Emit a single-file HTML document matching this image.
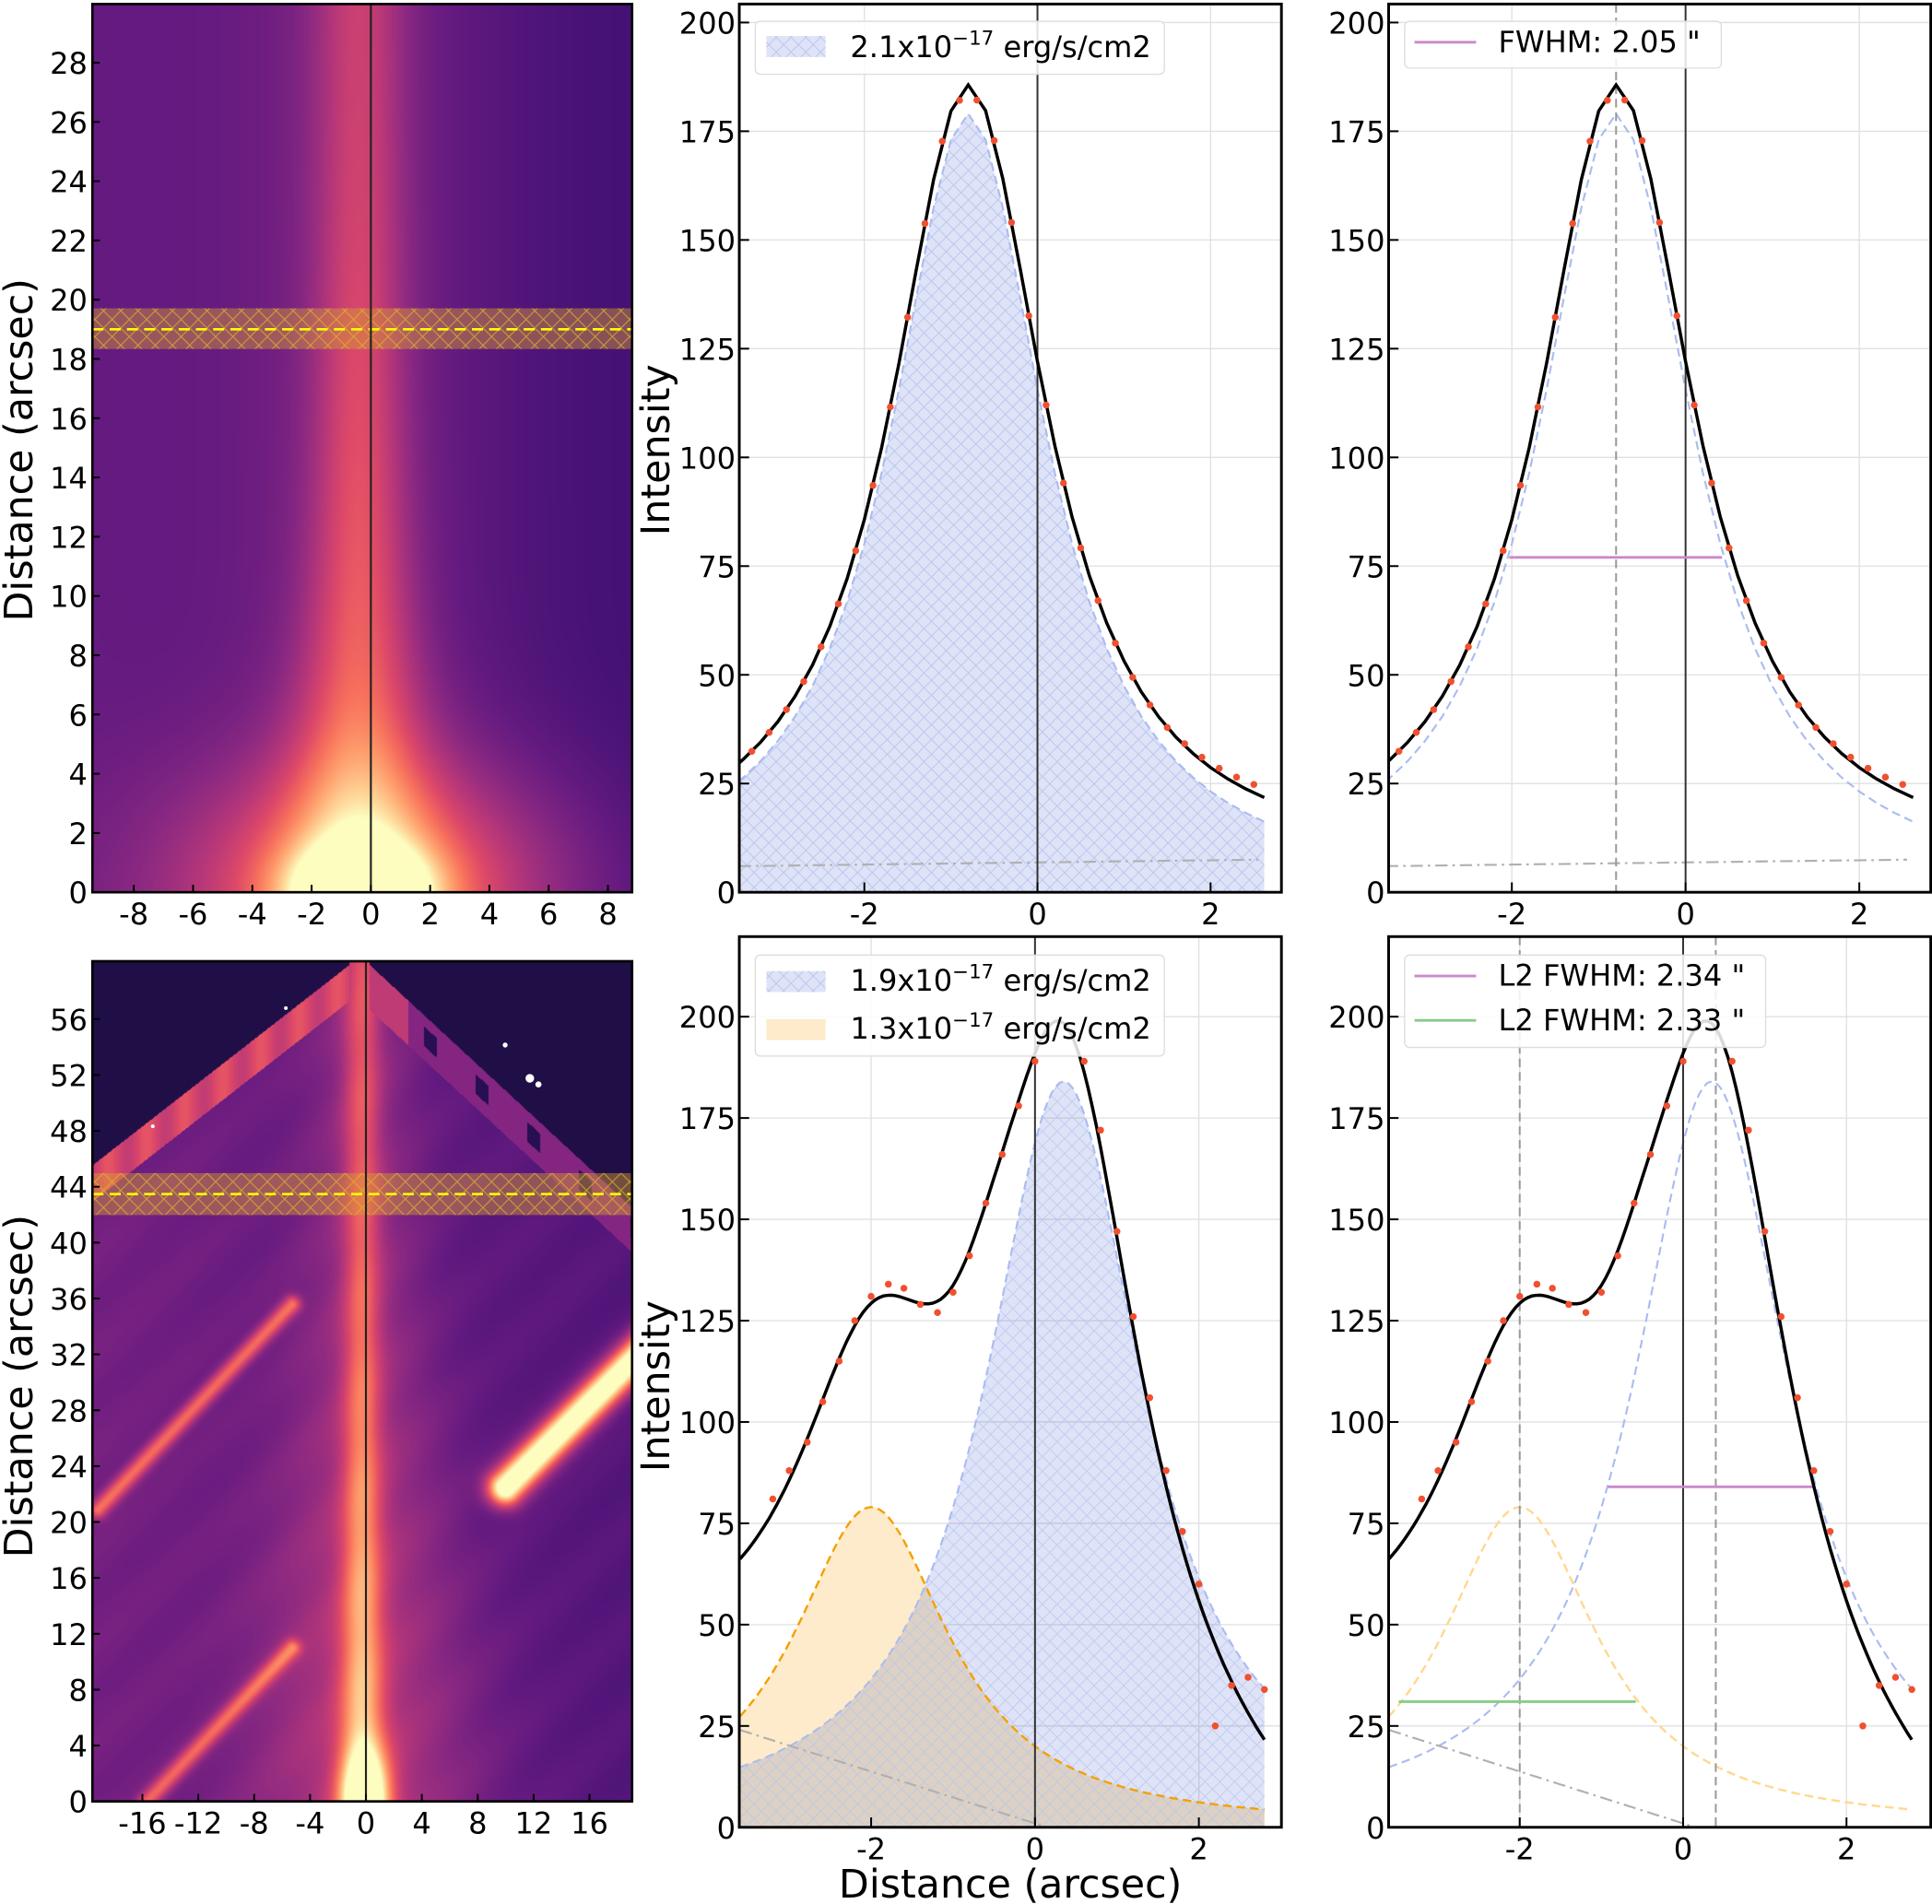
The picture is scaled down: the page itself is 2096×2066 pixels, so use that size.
<!DOCTYPE html>
<html><head><meta charset="utf-8"><style>
html,body{margin:0;padding:0;background:#fff;}
#wrap{position:relative;width:2096px;height:2066px;overflow:hidden;}
canvas{position:absolute;}
svg{position:absolute;left:0;top:0;display:block;}
text{font-family:"DejaVu Sans","Liberation Sans",sans-serif;fill:#000;}
</style></head><body>
<div id="wrap">
<canvas id="cv1" width="586" height="964" style="left:100px;top:4px;width:586px;height:964px"></canvas>
<canvas id="cv2" width="586" height="912" style="left:100px;top:1043px;width:586px;height:912px"></canvas>
<svg id="s" width="2096" height="2066" viewBox="0 0 1568 1545" xmlns="http://www.w3.org/2000/svg">
<defs>
<pattern id="hb" width="12" height="12" patternUnits="userSpaceOnUse"><path d="M0 0L12 12M12 0L0 12" stroke="#b8c4ee" stroke-width="0.7"/></pattern>
<pattern id="hy" width="14" height="14" patternUnits="userSpaceOnUse"><path d="M0 0L14 14M14 0L0 14" stroke="#e0b030" stroke-width="0.8"/></pattern>
<clipPath id="ctm"><rect x="600" y="3" width="440" height="721"/></clipPath>
<clipPath id="ctr"><rect x="1127" y="3" width="440" height="721"/></clipPath>
<clipPath id="cbm"><rect x="600" y="760" width="440" height="723"/></clipPath>
<clipPath id="cbr"><rect x="1127" y="760" width="440" height="723"/></clipPath>
</defs>

<rect x="75" y="250" width="438" height="33" fill="#d8a030" opacity="0.45"/>
<rect x="75" y="250" width="438" height="33" fill="url(#hy)" opacity="0.8"/>
<line x1="75" y1="267" x2="513" y2="267" stroke="#ffff00" stroke-width="2" stroke-dasharray="9,5"/>
<line x1="301" y1="3" x2="301" y2="724" stroke="#222" stroke-width="1.6"/>
<rect x="75" y="3" width="438" height="721" fill="none" stroke="#000" stroke-width="2"/>

<circle cx="430" cy="875" r="3.5" fill="#fff"/><circle cx="437" cy="880" r="2.5" fill="#fff"/><circle cx="410" cy="848" r="2" fill="#fff"/>
<circle cx="232" cy="818" r="1.5" fill="#fff"/><circle cx="124" cy="914" r="1.5" fill="#fff"/>
<rect x="75" y="952" width="438" height="34" fill="#d8a030" opacity="0.45"/>
<rect x="75" y="952" width="438" height="34" fill="url(#hy)" opacity="0.8"/>
<line x1="75" y1="969" x2="513" y2="969" stroke="#ffff00" stroke-width="2" stroke-dasharray="9,5"/>
<line x1="297" y1="780" x2="297" y2="1462" stroke="#222" stroke-width="1.6"/>
<rect x="75" y="780" width="438" height="682" fill="none" stroke="#000" stroke-width="2"/>

<g id="dyn"></g>
<g id="txt" font-size="24"></g>
</svg>
</div>
<script>
(function(){
var M=[[0,0,4],[20,14,54],[59,15,112],[100,26,128],[140,41,129],[183,55,121],[222,73,104],[247,112,92],[254,159,109],[254,207,146],[252,253,191]];
function cmap(v){if(v<0)v=0;if(v>1)v=1;var f=v*10,i=Math.floor(f);if(i>=10)return M[10];var t=f-i,a=M[i],b=M[i+1];return [a[0]+(b[0]-a[0])*t,a[1]+(b[1]-a[1])*t,a[2]+(b[2]-a[2])*t];}
var S=2096/1568;
function draw(id,x0d,y0d,ox,oy,sc,F){
 var c=document.getElementById(id),ctx=c.getContext("2d"),W=c.width,H=c.height;
 var img=ctx.createImageData(W,H),d=img.data;
 for(var j=0;j<H;j++){var yd=y0d+j/S,y=(oy-yd)/sc;
  for(var i=0;i<W;i++){var xd=x0d+i/S,x=(xd-ox)/sc;var c3=cmap(F(x,y));var k=(j*W+i)*4;d[k]=c3[0];d[k+1]=c3[1];d[k+2]=c3[2];d[k+3]=255;}}
 ctx.putImageData(img,0,0);
}
function G(x,s){return Math.exp(-x*x/(2*s*s));}
draw("cv1",75,3,301,724,24.05,function(x,y){
 var bg=0.3-0.0045*(x+9);
 var w=1.1+0.6*G(y,6);
 var col=(0.2+0.15*G(y,12))*G(x+0.4,w)+0.08*G(x+0.3,3.2);
 var glow=0.42*Math.exp(-(x*x/(2*4.6*4.6)+y*y/(2*3.0*3.0)));
 var blob=0.55*Math.exp(-((x+0.3)*(x+0.3)/(2*1.6*1.6)+y*y/(2*1.0*1.0)));
 return bg+col+glow+blob;
});
function seg(x,y,ax,ay,bx,by){var dx=bx-ax,dy=by-ay,t=((x-ax)*dx+(y-ay)*dy)/(dx*dx+dy*dy);if(t<0)t=0;if(t>1)t=1;var px=ax+t*dx-x,py=ay+t*dy-y;return Math.sqrt(px*px+py*py);}
draw("cv2",75,780,297,1462,11.34,function(x,y){
 var yl=59.9-0.78*(-1.2-x), yr=59.9-0.925*(x-0.26);
 if(x<-1.2 && y>yl) return 0.13;
 if(x>0.26 && y>yr) return 0.13;
 if(x<=-1.2 && y>yl-2.6) return 0.58+0.05*Math.sin(x*2.3);
 if(x>0.26 && y>yr-3.2){var v=0.38;if(Math.sin(x*1.7)>0.7&&y>yr-2.2&&y<yr-0.8)v=0.15;if(x<3)v=0.52;return v;}
 var bg=0.3-0.002*x+0.012*Math.sin((y-0.95*x)*0.9);
 var col=(0.22+0.18*G(y,20))*G(x+0.3,0.9+0.2*G(y,15))+(0.1+0.1*G(y,25))*G(x+0.2,2.6+3*G(y,20));
 var blob=0.6*Math.exp(-((x)*(x)/(2*1.2*1.2)+y*y/(2*2.5*2.5)));
 var st=0;
 st=Math.max(st,0.37*G(seg(x,y,-19.2,20.9,-5.3,35.6),0.45));
 st=Math.max(st,0.33*G(seg(x,y,-15.7,0,-5.3,11),0.45));
 st=Math.max(st,0.9*G(seg(x,y,10,22.5,20,32.5),0.9));
 return bg+col+blob+st;
});
var NS="http://www.w3.org/2000/svg";
var dyn=document.getElementById("dyn"), txt=document.getElementById("txt");
function el(tag,attrs,parent,content){var e=document.createElementNS(NS,tag);for(var k in attrs)e.setAttribute(k,attrs[k]);if(content!==undefined)e.textContent=content;(parent||dyn).appendChild(e);return e;}
function L(x,x0,A,g){return A/(1+Math.pow((x-x0)/g,2));}
function mk(P){P.X=function(x){return P.ox+P.sx*x;};P.Y=function(y){return P.oy-P.sy*y;};return P;}
var TM=mk({l:600,r:1040,t:3,b:724,ox:842,sx:70.25,oy:724,sy:3.53,clip:"ctm"});
var TR=mk({l:1127,r:1567,t:3,b:724,ox:1368,sx:70.5,oy:724,sy:3.53,clip:"ctr"});
var BM=mk({l:600,r:1040,t:760,b:1483,ox:840,sx:66.5,oy:1483,sy:3.29,clip:"cbm"});
var BR=mk({l:1127,r:1567,t:760,b:1483,ox:1366,sx:66.3,oy:1483,sy:3.29,clip:"cbr"});
function path(P,f,x0,x1,st){var d="";for(var x=x0;x<=x1+1e-9;x+=st){d+=(d?"L":"M")+P.X(x).toFixed(1)+" "+P.Y(f(x)).toFixed(1);}return d;}
function pathPts(P,xs,f){return xs.map(function(x,i){return (i?"L":"M")+P.X(x).toFixed(1)+" "+P.Y(f(x)).toFixed(1);}).join("");}
function grid(P,xt,yt){
 var g=el("g",{"clip-path":"url(#"+P.clip+")"});
 xt.forEach(function(v){el("line",{x1:P.X(v),x2:P.X(v),y1:P.t,y2:P.b,stroke:"#e0e0e0","stroke-width":1},g);});
 yt.forEach(function(v){el("line",{x1:P.l,x2:P.r,y1:P.Y(v),y2:P.Y(v),stroke:"#e0e0e0","stroke-width":1},g);});
 return g;}
function axes(P,xt,yt){
 el("rect",{x:P.l,y:P.t,width:P.r-P.l,height:P.b-P.t,fill:"none",stroke:"#000","stroke-width":2.2});
 xt.forEach(function(v){var x=P.X(v);el("line",{x1:x,x2:x,y1:P.b,y2:P.b-8,stroke:"#000","stroke-width":1.5});
  el("text",{x:x,y:P.b+26,"text-anchor":"middle"},txt,(v<0?"-":"")+Math.abs(v));});
 yt.forEach(function(v){var y=P.Y(v);el("line",{x1:P.l,x2:P.l+8,y1:y,y2:y,stroke:"#000","stroke-width":1.5});
  el("text",{x:P.l-3,y:y+9,"text-anchor":"end"},txt,""+v);});
}
var xt=[-2,0,2], yt=[0,25,50,75,100,125,150,175,200];
function bT(x){return 6+0.25*(x+3.45);}
function blT(x){return L(x,-0.8,179,1.08);}
function blkT(x){return blT(x)+bT(x)-2*(1-G(x+0.8,1.2));}
var xsT=[-3.45];for(var k=0;k<=30;k++)xsT.push(-3.4+0.2*k);xsT.push(2.62);
[TM,TR].forEach(function(P,i){
 var g=grid(P,xt,yt);
 var d=pathPts(P,xsT,blT);
 if(i==0){
  el("path",{d:d+"L"+P.X(2.62)+" "+P.b+"L"+P.X(-3.45)+" "+P.b+"Z",fill:"#dee3f7"},g);
  el("path",{d:d+"L"+P.X(2.62)+" "+P.b+"L"+P.X(-3.45)+" "+P.b+"Z",fill:"url(#hb)"},g);
 }
 el("path",{d:d,fill:"none",stroke:"#aabcf0","stroke-width":1.6,"stroke-dasharray":"7,4"},g);
 el("path",{d:path(P,bT,-3.45,2.62,0.1),fill:"none",stroke:"#b0b0b0","stroke-width":1.6,"stroke-dasharray":"10,4,2,4"},g);
 el("line",{x1:P.X(0),x2:P.X(0),y1:P.t,y2:P.b,stroke:"#333","stroke-width":1.5},g);
 if(i==1){el("line",{x1:P.X(-0.8),x2:P.X(-0.8),y1:P.t,y2:P.b,stroke:"#999","stroke-width":1.5,"stroke-dasharray":"7,4"},g);
  el("line",{x1:P.X(-2.03),x2:P.X(0.42),y1:P.Y(77),y2:P.Y(77),stroke:"#cc88cc","stroke-width":2.2},g);}
 el("path",{d:pathPts(P,xsT,blkT),fill:"none",stroke:"#000","stroke-width":2.6},g);
 for(var x=-3.3;x<=2.65;x+=0.2){var v=blkT(x)+(x>1.7?0.5+(x-1.7)*1.8:0)-(x>-1&&x<-0.6?2:0);
  el("circle",{cx:P.X(x),cy:P.Y(v),r:2.8,fill:"#f05030"},g);}
 axes(P,xt,yt);
});
function bB(x){return 24-6.4*(x+3.6);}
function blB(x){return L(x,0.35,184,1.17);}
function orB(x){return L(x,-2,79,1.165);}
function blkB(x){return blB(x)+orB(x)+bB(x)+6*Math.exp(-Math.pow(x+0.55,2)/(2*0.09));}
var pts=[[-3.2,81],[-3.0,88],[-2.78,95],[-2.59,105],[-2.39,115],[-2.2,125],[-2.0,131],[-1.79,134],[-1.6,133],[-1.4,129],[-1.19,127],[-1.0,132],[-0.8,141],[-0.6,154],[-0.4,166],[-0.2,178],[0,189],[0.6,189],[0.8,172],[1.0,147],[1.2,126],[1.4,106],[1.6,88],[1.8,73],[2.0,60],[2.2,25],[2.4,35],[2.6,37],[2.8,34]];
[BM,BR].forEach(function(P,i){
 var g=grid(P,xt,yt);
 if(i==0){
  var dO=path(P,orB,-3.6,2.8,0.05);
  el("path",{d:dO+"L"+P.X(2.8)+" "+P.b+"L"+P.X(-3.6)+" "+P.b+"Z",fill:"#fdebcb"},g);
  var dB=path(P,blB,-3.6,2.8,0.05);
  el("path",{d:dB+"L"+P.X(2.8)+" "+P.b+"L"+P.X(-3.6)+" "+P.b+"Z",fill:"#dee3f7",style:"mix-blend-mode:multiply"},g);
  el("path",{d:dB+"L"+P.X(2.8)+" "+P.b+"L"+P.X(-3.6)+" "+P.b+"Z",fill:"url(#hb)",opacity:0.8},g);
 }
 el("path",{d:path(P,blB,-3.6,2.8,0.05),fill:"none",stroke:"#aabcf0","stroke-width":1.6,"stroke-dasharray":"7,4"},g);
 el("path",{d:path(P,orB,-3.6,2.8,0.05),fill:"none",stroke:i==0?"#f5a000":"#ffd890","stroke-width":1.8,"stroke-dasharray":"7,4"},g);
 el("path",{d:path(P,bB,-3.6,0.15,0.05),fill:"none",stroke:"#b0b0b0","stroke-width":1.6,"stroke-dasharray":"10,4,2,4"},g);
 el("line",{x1:P.X(0),x2:P.X(0),y1:P.t,y2:P.b,stroke:"#333","stroke-width":1.5},g);
 if(i==1){
  [-2,0.4].forEach(function(v){el("line",{x1:P.X(v),x2:P.X(v),y1:P.t,y2:P.b,stroke:"#999","stroke-width":1.5,"stroke-dasharray":"7,4"},g);});
  el("line",{x1:P.X(-0.92),x2:P.X(1.6),y1:P.Y(84),y2:P.Y(84),stroke:"#cc88cc","stroke-width":2.2},g);
  el("line",{x1:P.X(-3.48),x2:P.X(-0.58),y1:P.Y(31),y2:P.Y(31),stroke:"#88cc88","stroke-width":2.2},g);
 }
 el("path",{d:path(P,blkB,-3.6,2.8,0.05),fill:"none",stroke:"#000","stroke-width":2.6},g);
 pts.forEach(function(p){el("circle",{cx:P.X(p[0]),cy:P.Y(p[1]),r:2.8,fill:"#f05030"},g);});
 axes(P,xt,yt);
});
function legbox(x,y,w,h){el("rect",{x:x,y:y,width:w,height:h,rx:4,fill:"#fff","fill-opacity":0.85,stroke:"#ddd","stroke-width":1});}
function sci(x,y,m){var t=el("text",{x:x,y:y},txt);
 t.appendChild(document.createTextNode(m+"x10"));
 var s=document.createElementNS(NS,"tspan");s.setAttribute("dy","-10");s.setAttribute("font-size","16");s.textContent="\u221217";t.appendChild(s);
 var s2=document.createElementNS(NS,"tspan");s2.setAttribute("dy","10");s2.textContent=" erg/s/cm2";t.appendChild(s2);}
legbox(613,17,332,43);
el("rect",{x:622,y:29,width:48,height:17,fill:"#dee3f7"});el("rect",{x:622,y:29,width:48,height:17,fill:"url(#hb)"});
sci(690,46,"2.1");
legbox(1140,17,257,38);
el("line",{x1:1148,x2:1198,y1:34,y2:34,stroke:"#cc88cc","stroke-width":2.2});
el("text",{x:1216,y:42},txt,"FWHM: 2.05 \"");
legbox(613,775,332,82);
el("rect",{x:622,y:788,width:48,height:17,fill:"#dee3f7"});el("rect",{x:622,y:788,width:48,height:17,fill:"url(#hb)"});
el("rect",{x:622,y:827,width:48,height:17,fill:"#fdebcb"});
sci(690,804,"1.9");sci(690,843,"1.3");
legbox(1140,775,293,75);
el("line",{x1:1148,x2:1198,y1:792,y2:792,stroke:"#cc88cc","stroke-width":2.2});
el("line",{x1:1148,x2:1198,y1:828,y2:828,stroke:"#88cc88","stroke-width":2.2});
el("text",{x:1216,y:800},txt,"L2 FWHM: 2.34 \"");
el("text",{x:1216,y:836},txt,"L2 FWHM: 2.33 \"");
function imgAx(ox,oy,sc,xs,ys,l,r,t,b){
 xs.forEach(function(v){var x=ox+sc*v;el("line",{x1:x,x2:x,y1:b,y2:b-6,stroke:"#000","stroke-width":1.5});
  el("text",{x:x,y:b+26,"text-anchor":"middle"},txt,""+v);});
 ys.forEach(function(v){var y=oy-sc*v;el("line",{x1:l,x2:l+6,y1:y,y2:y,stroke:"#000","stroke-width":1.5});
  el("text",{x:l-4,y:y+9,"text-anchor":"end"},txt,""+v);});
}
imgAx(301,724,24.05,[-8,-6,-4,-2,0,2,4,6,8],[0,2,4,6,8,10,12,14,16,18,20,22,24,26,28],75,513,3,724);
imgAx(297,1462,11.34,[-16,-12,-8,-4,0,4,8,12,16],[0,4,8,12,16,20,24,28,32,36,40,44,48,52,56],75,513,780,1462);
el("text",{x:0,y:0,"font-size":32,"text-anchor":"middle",transform:"translate(26,365) rotate(-90)"},txt,"Distance (arcsec)");
el("text",{x:0,y:0,"font-size":32,"text-anchor":"middle",transform:"translate(26,1125) rotate(-90)"},txt,"Distance (arcsec)");
el("text",{x:0,y:0,"font-size":32,"text-anchor":"middle",transform:"translate(543,365) rotate(-90)"},txt,"Intensity");
el("text",{x:0,y:0,"font-size":32,"text-anchor":"middle",transform:"translate(543,1125) rotate(-90)"},txt,"Intensity");
el("text",{x:820,y:1540,"font-size":32,"text-anchor":"middle"},txt,"Distance (arcsec)");
})();
</script>
</body></html>
